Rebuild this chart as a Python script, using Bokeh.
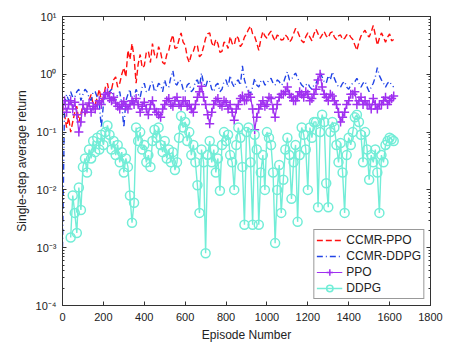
from bokeh.plotting import figure
from bokeh.models import (Range1d, LogAxis, LinearAxis, FixedTicker, CustomJSTickFormatter,
                          Legend, LegendItem)
from bokeh.embed import file_html
from bokeh.resources import INLINE

STEP = 10  # episodes between logged points

# CCMR-PPO, episodes 0..1620
ccmr_ppo = [0.3, 0.2, 0.12, 0.18, 0.1, 0.15, 0.22, 0.28, 0.15, 0.2,
            0.3, 0.2, 0.25, 0.35, 0.45, 0.3, 0.3, 0.4, 0.55, 0.35,
            0.4, 0.6, 0.7, 0.45, 0.55, 0.8, 0.9, 0.6, 0.7, 1.0,
            1.3, 0.9, 2.6, 1.8, 3.4, 2.0, 0.7, 1.5, 2.2, 1.3,
            1.4, 2.4, 2.5, 1.6, 3.4, 2.2, 1.9, 3.0, 2.4, 1.6,
            1.5, 2.2, 2.6, 3.8, 4.8, 2.8, 2.9, 4.0, 5.2, 3.6,
            3.2, 2.0, 1.6, 2.2, 2.5, 3.2, 3.1, 2.0, 2.2, 3.0,
            4.2, 5.0, 5.2, 3.5, 3.0, 4.0, 3.4, 2.4, 2.5, 3.6,
            3.5, 2.8, 4.5, 3.4, 3.2, 4.6, 4.2, 3.0, 3.4, 4.4,
            5.0, 6.0, 6.8, 5.0, 4.5, 3.5, 2.6, 4.0, 5.5, 4.6,
            4.2, 5.0, 5.6, 4.4, 3.8, 4.8, 4.5, 3.9, 4.0, 4.8,
            4.4, 3.6, 4.0, 5.0, 6.2, 5.5, 4.5, 3.8, 3.5, 4.5,
            5.2, 4.4, 3.8, 5.0, 6.0, 5.0, 4.2, 4.8, 5.5, 4.6,
            4.3, 5.2, 5.4, 4.4, 4.0, 4.6, 4.8, 4.0, 4.2, 4.8,
            5.0, 4.4, 4.0, 3.2, 2.6, 3.6, 4.6, 5.2, 5.8, 4.8,
            4.4, 5.4, 7.0, 4.8, 3.2, 4.2, 5.2, 4.4, 3.6, 4.4,
            5.0, 3.8, 4.0]

# CCMR-DDPG, episodes 0..1620
ccmr_ddpg = [0.001, 0.3, 0.45, 0.35, 0.5, 0.4, 0.4, 0.5, 0.55, 0.35,
             0.45, 0.55, 0.5, 0.4, 0.35, 0.5, 0.5, 0.4, 0.3, 0.12,
             0.3, 0.45, 0.4, 0.5, 0.55, 0.4, 0.35, 0.45, 0.5, 0.3,
             0.12, 0.35, 0.45, 0.55, 0.3, 0.4, 0.55, 0.45, 0.4, 0.6,
             0.7, 0.5, 0.5, 0.65, 0.75, 0.5, 0.55, 0.7, 0.65, 0.5,
             0.8, 0.6, 0.6, 0.9, 1.15, 0.7, 0.65, 0.8, 0.75, 0.55,
             0.5, 0.65, 0.7, 0.5, 0.55, 0.75, 0.8, 0.6, 1.05, 0.7,
             0.6, 0.8, 0.75, 0.55, 0.5, 0.65, 0.7, 0.5, 0.55, 0.75,
             0.8, 0.6, 0.95, 0.7, 0.6, 0.75, 0.8, 0.65, 1.4, 0.8,
             0.6, 0.5, 0.47, 0.6, 0.85, 0.65, 0.6, 0.75, 0.8, 0.65,
             0.7, 0.8, 0.85, 0.7, 0.65, 0.8, 0.75, 0.65, 0.7, 0.9,
             1.1, 0.8, 0.8, 0.95, 1.05, 0.85, 0.75, 0.65, 0.6, 0.65,
             0.7, 0.6, 0.55, 0.65, 0.7, 0.85, 1.1, 0.9, 0.75, 0.7,
             0.95, 0.8, 1.1, 0.85, 0.7, 0.6, 0.6, 0.7, 0.75, 0.6,
             0.55, 0.65, 0.7, 0.75, 0.85, 0.7, 0.6, 0.7, 0.75, 0.6,
             0.5, 0.6, 0.7, 0.9, 1.3, 0.95, 0.8, 0.7, 0.6, 0.7,
             0.75, 0.65, 0.6]

# PPO, episodes 0..1620
ppo = [0.25, 0.35, 0.22, 0.3, 0.35, 0.25, 0.33, 0.2, 0.1, 0.15,
       0.3, 0.22, 0.25, 0.32, 0.22, 0.28, 0.25, 0.3, 0.35, 0.3,
       0.38, 0.45, 0.48, 0.38, 0.35, 0.4, 0.32, 0.28, 0.25, 0.3,
       0.34, 0.28, 0.25, 0.3, 0.35, 0.3, 0.38, 0.3, 0.22, 0.28,
       0.33, 0.25, 0.2, 0.3, 0.35, 0.25, 0.22, 0.2, 0.18, 0.25,
       0.3, 0.35, 0.38, 0.3, 0.28, 0.35, 0.4, 0.3, 0.28, 0.35,
       0.35, 0.28, 0.3, 0.25, 0.22, 0.3, 0.4, 0.5, 0.62, 0.4,
       0.3, 0.2, 0.14, 0.22, 0.3, 0.35, 0.38, 0.3, 0.28, 0.35,
       0.33, 0.25, 0.3, 0.22, 0.16, 0.25, 0.3, 0.38, 0.42, 0.35,
       0.36, 0.45, 0.4, 0.25, 0.11, 0.18, 0.25, 0.3, 0.35, 0.28,
       0.3, 0.4, 0.38, 0.25, 0.18, 0.3, 0.4, 0.45, 0.45, 0.5,
       0.6, 0.45, 0.4, 0.35, 0.35, 0.42, 0.5, 0.45, 0.4, 0.5,
       0.45, 0.35, 0.38, 0.45, 0.55, 0.8, 1.0, 0.6, 0.45, 0.4,
       0.35, 0.45, 0.42, 0.35, 0.3, 0.22, 0.15, 0.18, 0.22, 0.3,
       0.35, 0.45, 0.45, 0.5, 0.3, 0.35, 0.4, 0.3, 0.35, 0.3,
       0.3, 0.25, 0.38, 0.3, 0.25, 0.3, 0.3, 0.35, 0.4, 0.3,
       0.35, 0.38, 0.42]

# DDPG, episodes 40..1620
DDPG_START = 40
ddpg = [0.0015, 0.008, 0.004, 0.0018, 0.011, 0.0045,
        0.025, 0.035, 0.02, 0.05, 0.035, 0.07, 0.045, 0.08, 0.05, 0.09,
        0.06, 0.1, 0.13, 0.09, 0.05, 0.07, 0.04, 0.06, 0.03, 0.045,
        0.02, 0.035, 0.025, 0.008, 0.0027, 0.006, 0.12, 0.07, 0.1, 0.05,
        0.06, 0.03, 0.04, 0.025, 0.07, 0.11, 0.08, 0.12, 0.06, 0.045,
        0.07, 0.035, 0.05, 0.03, 0.045, 0.022, 0.03, 0.08, 0.19, 0.12,
        0.15, 0.07, 0.1, 0.04, 0.06, 0.03, 0.012, 0.004, 0.05, 0.03,
        0.0008, 0.04, 0.07, 0.03, 0.05, 0.02, 0.035, 0.0097, 0.06, 0.1,
        0.07, 0.09, 0.04, 0.03, 0.01, 0.06, 0.12, 0.08, 0.025, 0.0025,
        0.1, 0.12, 0.03, 0.0025, 0.09, 0.05, 0.0025, 0.02, 0.04, 0.01,
        0.1, 0.08, 0.06, 0.02, 0.0012, 0.01, 0.027, 0.004, 0.015, 0.05,
        0.08, 0.04, 0.007, 0.03, 0.06, 0.0028, 0.04, 0.12, 0.09, 0.05,
        0.01, 0.12, 0.08, 0.15, 0.15, 0.005, 0.1, 0.2, 0.15, 0.013,
        0.005, 0.1, 0.15, 0.12, 0.06, 0.03, 0.065, 0.02, 0.004, 0.04,
        0.08, 0.06, 0.1, 0.18, 0.2, 0.15, 0.09, 0.03, 0.1, 0.05,
        0.015, 0.04, 0.03, 0.05, 0.02, 0.004, 0.04, 0.03, 0.06, 0.07,
        0.08, 0.075, 0.07]

x_ticks = [0, 200, 400, 600, 800, 1000, 1200, 1400, 1600, 1800]
y_ticks = [1e-4, 1e-3, 1e-2, 1e-1, 1e0, 1e1]

ep_main = [STEP * i for i in range(len(ccmr_ppo))]
ep_ddpg_cc = [STEP * i for i in range(len(ccmr_ddpg))]
ep_ppo = [STEP * i for i in range(len(ppo))]
ep_ddpg = [DDPG_START + STEP * i for i in range(len(ddpg))]

FONT = "Liberation Sans"
C_RED = "#FF1010"
C_BLUE = "#2244E6"
C_MAG = "#A030F0"
C_CYAN = "#72EDD7"

p = figure(width=474, height=345, y_axis_type="log",
           x_range=Range1d(0, 1800), y_range=Range1d(1e-4, 10),
           output_backend="svg", toolbar_location=None,
           min_border_left=62, min_border_right=44, min_border_top=16, min_border_bottom=40)
p.background_fill_color = "white"
p.border_fill_color = "white"
p.outline_line_color = "#333333"
p.outline_line_width = 1
p.xgrid.visible = False
p.ygrid.visible = False

minor = [m * 10.0 ** e for e in range(-4, 1) for m in range(2, 10)]
yt = FixedTicker(ticks=y_ticks, minor_ticks=minor)
xt = FixedTicker(ticks=x_ticks)
fmt = CustomJSTickFormatter(code="""
const e = Math.round(Math.log10(tick));
const sup = {'-':'\\u207b','0':'\\u2070','1':'\\u00b9','2':'\\u00b2','3':'\\u00b3','4':'\\u2074','5':'\\u2075'};
return '10' + String(e).split('').map(c => sup[c]).join('');
""")

def style(ax):
    ax.axis_line_color = "#333333"
    ax.major_tick_in = 4
    ax.major_tick_out = 0
    ax.minor_tick_in = 2
    ax.minor_tick_out = 0
    ax.major_tick_line_color = "#333333"
    ax.minor_tick_line_color = "#333333"
    ax.major_label_text_font = FONT
    ax.major_label_text_font_size = "11px"
    ax.major_label_text_color = "#222222"
    ax.axis_label_text_font = FONT
    ax.axis_label_text_font_size = "12px"
    ax.axis_label_text_font_style = "normal"
    ax.axis_label_text_color = "#222222"

p.yaxis.ticker = yt
p.yaxis.formatter = fmt
p.yaxis.axis_label = "Single-step average return"
style(p.yaxis[0])
p.yaxis.major_label_standoff = 6
p.yaxis.axis_label_standoff = 4

p.xaxis.ticker = xt
p.xaxis.axis_label = "Episode Number"
style(p.xaxis[0])
p.xaxis.major_label_standoff = 7
p.xaxis.axis_label_standoff = 4
p.xaxis.minor_tick_line_color = None

ry = LogAxis(ticker=yt)
style(ry)
ry.major_label_text_font_size = "1px"
ry.major_label_text_color = None
p.add_layout(ry, "right")
tx = LinearAxis(ticker=xt)
style(tx)
tx.minor_tick_line_color = None
tx.major_label_text_font_size = "1px"
tx.major_label_text_color = None
tx.major_label_standoff = 0
p.add_layout(tx, "above")

r1 = p.line(ep_main, ccmr_ppo, line_color=C_RED, line_width=1.4, line_dash="6 3")
r2 = p.line(ep_ddpg_cc, ccmr_ddpg, line_color=C_BLUE, line_width=1.4, line_dash="6 3 1 3")
r3 = p.line(ep_ppo, ppo, line_color=C_MAG, line_width=1.2)
r3m = p.scatter(ep_ppo, ppo, marker="cross", size=9, line_color=C_MAG, line_width=1.5)
r4 = p.line(ep_ddpg, ddpg, line_color=C_CYAN, line_width=1.4)
r4m = p.scatter(ep_ddpg, ddpg, marker="circle", size=9, line_color=C_CYAN,
                fill_color=None, line_width=1.5)

legend = Legend(items=[
    LegendItem(label="CCMR-PPO", renderers=[r1]),
    LegendItem(label="CCMR-DDPG", renderers=[r2]),
    LegendItem(label="PPO", renderers=[r3, r3m]),
    LegendItem(label="DDPG", renderers=[r4, r4m]),
], location="bottom_right")
legend.label_text_font = FONT
legend.label_text_font_size = "12px"
legend.label_text_color = "#222222"
legend.glyph_width = 26
legend.glyph_height = 16
legend.label_height = 16
legend.label_standoff = 4
legend.spacing = 0
legend.padding = 2
legend.margin = 6
legend.border_line_color = "#333333"
legend.border_line_width = 1
legend.background_fill_alpha = 1
p.add_layout(legend)

open("out.html", "w").write(file_html(p, INLINE))
